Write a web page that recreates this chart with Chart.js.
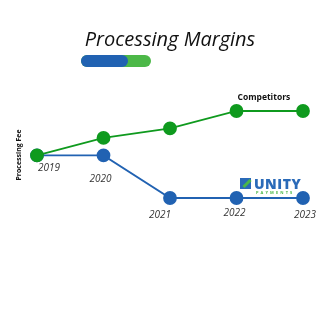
<!doctype html>
<html lang="en">
<head>
  <meta charset="utf-8">
  <title>Processing Margins</title>
  <script src="https://cdn.jsdelivr.net/npm/chart.js"></script>
  <style>
    body { margin: 0; background: #fff; }
    #wrap { position: relative; width: 332px; height: 311px; }
    #pill { position: absolute; left: 81px; top: 55px; width: 70px; height: 12px; border-radius: 6px; background: #4cb848; }
    #pill div { width: 47px; height: 12px; border-radius: 6px; background: #2162b2; }
    #logo { position: absolute; left: 240px; top: 177px; font-family: "Open Sans", sans-serif; }
    #logo .icon { position: absolute; left: 0; top: 1px; width: 11px; height: 11px; background: #2a6ab8; }
    #logo .icon::after { content: ""; position: absolute; left: 2px; top: 4px; width: 10px; height: 3px; background: #4cb848; transform: rotate(-45deg); }
    #logo .name { position: absolute; left: 14px; top: -3px; font-size: 14px; font-weight: 800; color: #2a6ab8; letter-spacing: 0.5px; }
    #logo .sub { position: absolute; left: 16px; top: 13px; font-size: 4px; font-weight: 700; color: #4cb848; letter-spacing: 2.1px; white-space: nowrap; }
  </style>
</head>
<body>
  <div id="wrap">
    <canvas id="chart" width="332" height="311"></canvas>
    <div id="pill"><div></div></div>
    <div id="logo"><span class="icon"></span><span class="name">UNITY</span><span class="sub">PAYMENTS</span></div>
  </div>

  <script>
    const years = ['2019', '2020', '2021', '2022', '2023'];
    const competitors = [4.9, 6.9, 8, 10, 10];
    const unity = [4.9, 4.9, 0, 0, 0];

    // where each year label sits, relative to the blue point
    const yearOffsets = [[12, 13], [-3, 24], [-10, 17], [-2, 15], [2, 17]];

    const labelPlugin = {
      id: 'labels',
      afterDatasetsDraw(chart) {
        const ctx = chart.ctx;
        const pts = chart.getDatasetMeta(1).data;
        ctx.save();
        ctx.fillStyle = '#333';
        ctx.font = 'italic 10px "Open Sans"';
        ctx.textAlign = 'center';
        ctx.textBaseline = 'middle';
        years.forEach((y, i) => {
          ctx.fillText(y, pts[i].x + yearOffsets[i][0], pts[i].y + yearOffsets[i][1]);
        });
        const g = chart.getDatasetMeta(0).data[3];
        ctx.fillStyle = '#111';
        ctx.font = 'bold 8.5px "Open Sans"';
        ctx.textAlign = 'left';
        ctx.fillText('Competitors', g.x + 1, g.y - 13);
        ctx.translate(19, 155);
        ctx.rotate(-Math.PI / 2);
        ctx.textAlign = 'center';
        ctx.font = 'bold 7px "Open Sans"';
        ctx.fillText('Processing Fee', 0, 0);
        ctx.restore();
      }
    };

    new Chart(document.getElementById('chart'), {
      type: 'line',
      data: {
        labels: years,
        datasets: [{
          label: 'Competitors',
          data: competitors,
          borderColor: '#0f9a1e',
          backgroundColor: '#0f9a1e',
          borderWidth: 1.8,
          pointRadius: 6,
          tension: 0,
          clip: false
        }, {
          label: 'Unity',
          data: unity,
          borderColor: '#2162b2',
          backgroundColor: '#2162b2',
          borderWidth: 1.8,
          pointRadius: 6,
          tension: 0,
          clip: false
        }]
      },
      options: {
        responsive: false,
        animation: false,
        layout: { padding: { left: 37, right: 29, top: 0, bottom: 113 } },
        plugins: {
          legend: { display: false },
          tooltip: { enabled: false },
          title: {
            display: true,
            text: 'Processing Margins',
            color: '#111',
            font: { family: 'Open Sans', size: 20, style: 'italic', weight: 'normal' },
            padding: { top: 28, bottom: 59 }
          }
        },
        scales: {
          x: { display: false },
          y: { display: false, min: 0, max: 10 }
        }
      },
      plugins: [labelPlugin]
    });
  </script>
</body>
</html>
